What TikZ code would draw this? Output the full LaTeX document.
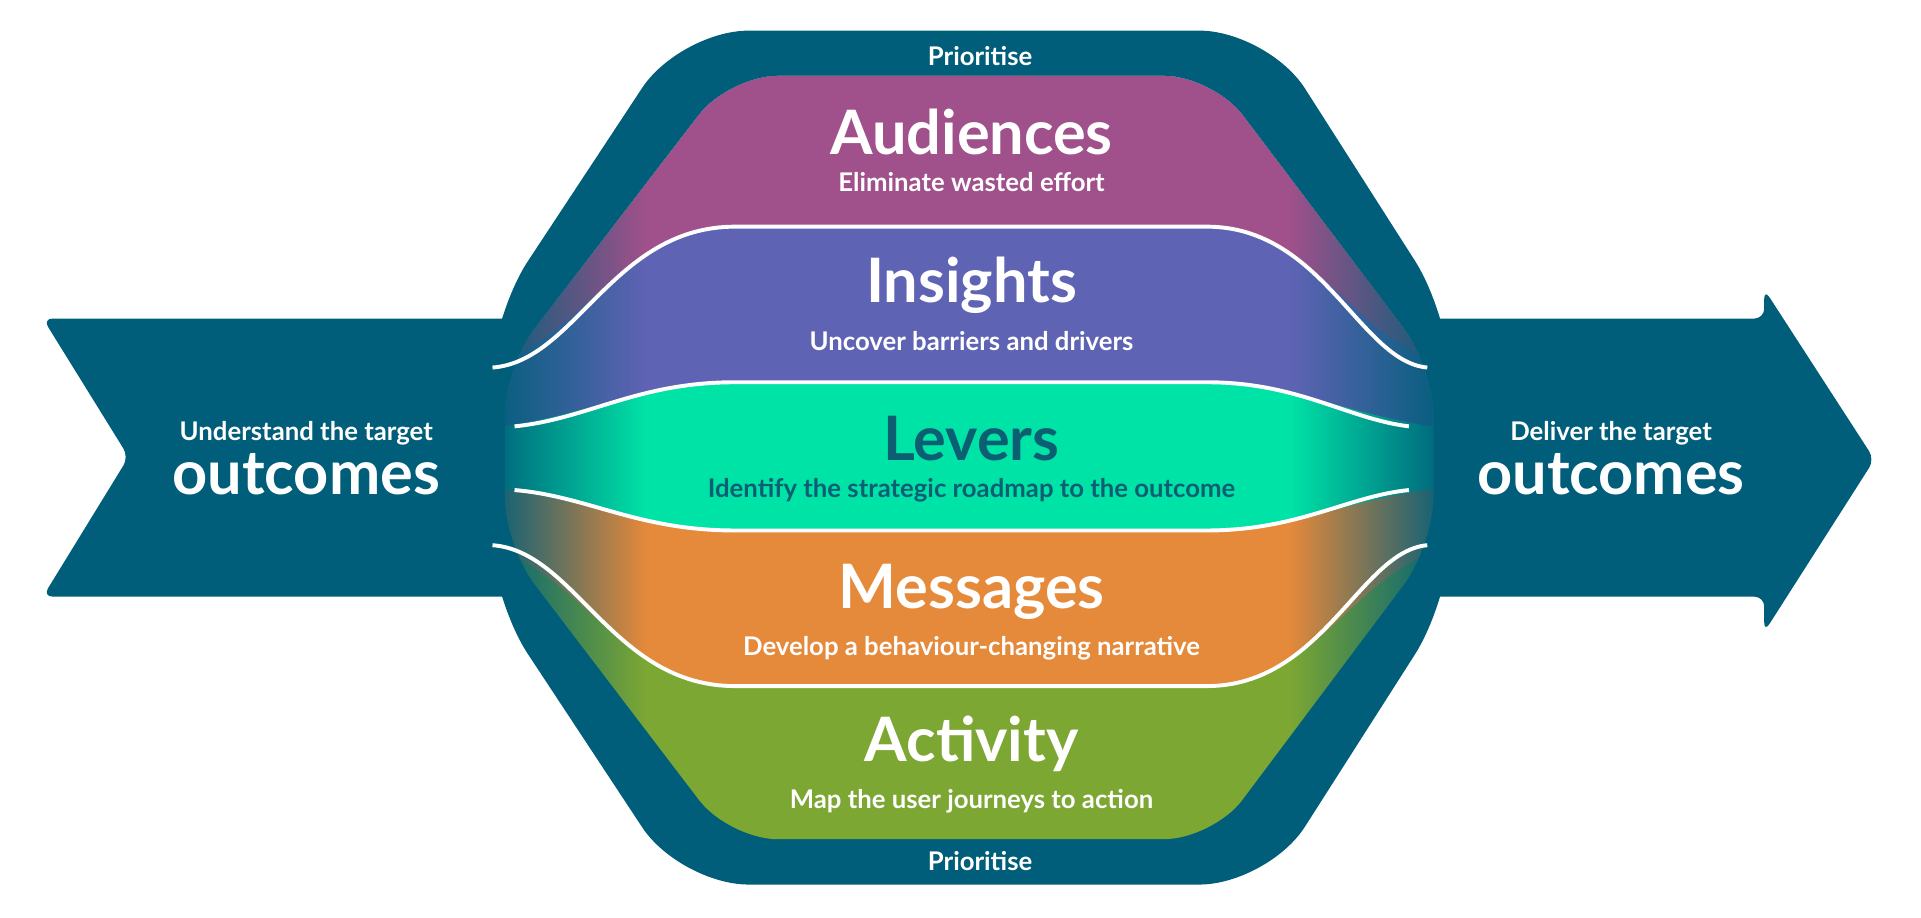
\documentclass[tikz,border=0pt]{standalone}
\usepackage{fontspec}
\setmainfont{Lato}
\usetikzlibrary{positioning}
\definecolor{deepteal}{HTML}{005E7A}
\definecolor{audcol}{HTML}{A0508A}
\definecolor{inscol}{HTML}{5F63B4}
\definecolor{levcol}{HTML}{00E3A6}
\definecolor{mescol}{HTML}{E5893A}
\definecolor{actcol}{HTML}{7CA732}
\definecolor{levtext}{HTML}{0C5E73}
\pgfdeclarehorizontalshading{fadeaud}{100bp}{color(0bp)=(deepteal); color(26bp)=(deepteal); color(34bp)=(audcol); color(66bp)=(audcol); color(74bp)=(deepteal); color(100bp)=(deepteal)}
\pgfdeclarehorizontalshading{fadeins}{100bp}{color(0bp)=(deepteal); color(26bp)=(deepteal); color(34bp)=(inscol); color(66bp)=(inscol); color(74bp)=(deepteal); color(100bp)=(deepteal)}
\pgfdeclarehorizontalshading{fadelev}{100bp}{color(0bp)=(deepteal); color(26bp)=(deepteal); color(34bp)=(levcol); color(66bp)=(levcol); color(74bp)=(deepteal); color(100bp)=(deepteal)}
\pgfdeclarehorizontalshading{fademes}{100bp}{color(0bp)=(deepteal); color(26bp)=(deepteal); color(34bp)=(mescol); color(66bp)=(mescol); color(74bp)=(deepteal); color(100bp)=(deepteal)}
\pgfdeclarehorizontalshading{fadeact}{100bp}{color(0bp)=(deepteal); color(26bp)=(deepteal); color(34bp)=(actcol); color(66bp)=(actcol); color(74bp)=(deepteal); color(100bp)=(deepteal)}
\begin{document}
\begin{tikzpicture}[
    x=0.5pt, y=-0.5pt,
    title/.style={text=white, font=\fontsize{25}{27}\selectfont\bfseries},
    sub/.style={text=white, font=\fontsize{10.5}{12}\selectfont\bfseries},
    side/.style={text=white, font=\fontsize{10.5}{12}\selectfont\bfseries},
    big/.style={text=white, font=\fontsize{25}{27}\selectfont\bfseries},
    divider/.style={white, line width=1.6pt}
]
\useasboundingbox (0,0) rectangle (1568,749);

% Outer arrow and hexagon
\fill[deepteal, rounded corners=4pt] (35,260) -- (420,260) -- (420,487) -- (35,487) -- (105,373) -- cycle;
\fill[deepteal, rounded corners=4pt] (1150,260) -- (1440,260) -- (1440,236) -- (1530,375) -- (1440,516) -- (1440,487) -- (1150,487) -- cycle;
\fill[deepteal, rounded corners=28pt] (555,25) -- (1035,25) -- (1185,260) -- (1185,487) -- (1035,722) -- (555,722) -- (400,487) -- (400,260) -- cycle;

% Bands
\begin{scope}
\clip[rounded corners=20pt] (595,62) -- (990,62) -- (1170,300) -- (1170,445) -- (990,685) -- (595,685) -- (412,445) -- (412,300) -- cycle;
\shade[shading=fadeact] (380,0) rectangle (1200,749);
\shade[shading=fademes] (380,0) -- (380,445) .. controls (470,450) and (500,560) .. (600,560) -- (985,560) .. controls (1080,560) and (1110,450) .. (1200,445) -- (1200,0) -- cycle;
\shade[shading=fadelev] (380,0) -- (380,395) .. controls (480,405) and (520,433) .. (600,433) -- (985,433) .. controls (1060,433) and (1100,405) .. (1200,395) -- (1200,0) -- cycle;
\shade[shading=fadeins] (380,0) -- (380,352) .. controls (480,342) and (520,312) .. (600,312) -- (985,312) .. controls (1060,312) and (1100,342) .. (1200,352) -- (1200,0) -- cycle;
\shade[shading=fadeaud] (380,0) -- (380,300) .. controls (470,295) and (500,185) .. (600,185) -- (985,185) .. controls (1080,185) and (1110,295) .. (1200,300) -- (1200,0) -- cycle;
\end{scope}

% Dividers
\draw[divider] (402,300) .. controls (470,295) and (500,185) .. (600,185) -- (985,185) .. controls (1080,185) and (1110,295) .. (1165,300);
\draw[divider] (420,348) .. controls (480,342) and (520,312) .. (600,312) -- (985,312) .. controls (1060,312) and (1100,342) .. (1150,348);
\draw[divider] (420,400) .. controls (480,405) and (520,433) .. (600,433) -- (985,433) .. controls (1060,433) and (1100,405) .. (1150,400);
\draw[divider] (402,445) .. controls (470,450) and (500,560) .. (600,560) -- (985,560) .. controls (1080,560) and (1110,450) .. (1165,445);

% Texts
\node[sub] (prtop) at (800,46) {Prioritise};
\node[sub] (prbot) at (800,703) {Prioritise};
\node[title] (aud) at (793,108) {Audiences};
\node[sub, below=0pt of aud] (audsub) {Eliminate wasted effort};
\node[title] (ins) at (793,233) {Insights};
\node[sub, below=0pt of ins] (inssub) {Uncover barriers and drivers};
\node[title, text=levtext] (lev) at (793,358) {Levers};
\node[sub, text=levtext, below=0pt of lev] (levsub) {Identify the strategic roadmap to the outcome};
\node[title] (mes) at (793,483) {Messages};
\node[sub, below=0pt of mes] (messub) {Develop a behaviour-changing narrative};
\node[title] (act) at (793,607) {Activity};
\node[sub, below=0pt of act] (actsub) {Map the user journeys to action};
\node[side] (lefttop) at (250,354) {Understand the target};
\node[big, below=-4pt of lefttop] (leftbig) {outcomes};
\node[side] (righttop) at (1315,354) {Deliver the target};
\node[big, below=-4pt of righttop] (rightbig) {outcomes};
\end{tikzpicture}
\end{document}
